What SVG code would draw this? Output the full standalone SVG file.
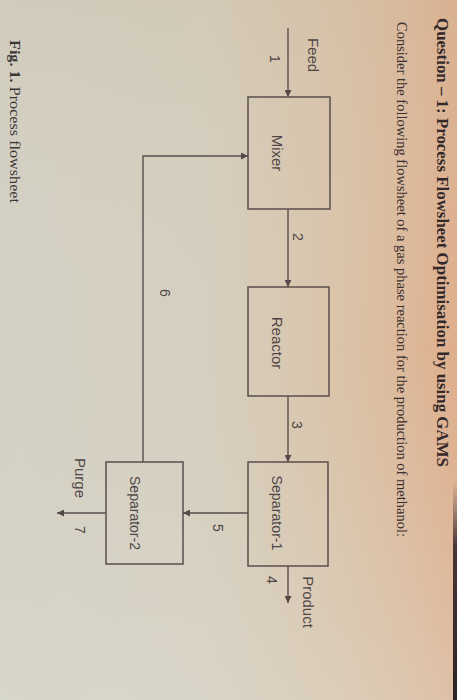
<svg xmlns="http://www.w3.org/2000/svg" width="457" height="700" viewBox="0 0 457 700">
  <defs>
    <linearGradient id="bgx" x1="0" y1="0" x2="457" y2="0" gradientUnits="userSpaceOnUse">
      <stop offset="0" stop-color="#d3d1c5"/>
      <stop offset="0.45" stop-color="#d6cfbf"/>
      <stop offset="0.75" stop-color="#dac3a8"/>
      <stop offset="0.9" stop-color="#ddb899"/>
      <stop offset="1" stop-color="#dfae8b"/>
    </linearGradient>
    <linearGradient id="bgy" x1="0" y1="0" x2="0" y2="700" gradientUnits="userSpaceOnUse">
      <stop offset="0" stop-color="#c9b9a0" stop-opacity="0.25"/>
      <stop offset="0.5" stop-color="#d8d4c8" stop-opacity="0"/>
      <stop offset="1" stop-color="#dfe0d8" stop-opacity="0.35"/>
    </linearGradient>
    <linearGradient id="edge" x1="0" y1="480" x2="0" y2="700" gradientUnits="userSpaceOnUse">
      <stop offset="0" stop-color="#6a4c44" stop-opacity="0"/>
      <stop offset="0.3" stop-color="#4a3434"/>
      <stop offset="1" stop-color="#2e2224"/>
    </linearGradient>
    <marker id="arr" viewBox="0 0 10 10" refX="10" refY="5" markerWidth="7" markerHeight="7" markerUnits="userSpaceOnUse" orient="auto">
      <path d="M0,0 L10,5 L0,10 Z" fill="#55494a"/>
    </marker>
    <style>
      .box { fill: none; stroke: #5a4d4c; stroke-width: 1.5; }
      .ln { fill: none; stroke: #5a4d4c; stroke-width: 1.4; }
      .lbl { font-family: "Liberation Sans", Arial, sans-serif; font-size: 15px; fill: #4f4646; }
      .num { font-family: "Liberation Sans", Arial, sans-serif; font-size: 14px; fill: #4f4646; }
      .title { font-family: "Liberation Serif", "Times New Roman", serif; font-size: 16px; font-weight: bold; fill: #33292a; }
      .body { font-family: "Liberation Serif", "Times New Roman", serif; font-size: 15px; fill: #3a3031; }
      .cap { font-family: "Liberation Serif", "Times New Roman", serif; font-size: 14px; fill: #3c3636; }
    </style>
  </defs>

  <rect x="0" y="0" width="457" height="700" fill="url(#bgx)"/>
  <rect x="0" y="0" width="457" height="700" fill="url(#bgy)"/>
  <rect x="453" y="480" width="4" height="220" fill="url(#edge)"/>

  <g transform="translate(457,0) rotate(90)">
    <g id="texts">
      <text class="title" x="18" y="20" textLength="449" lengthAdjust="spacingAndGlyphs">Question – 1: Process Flowsheet Optimisation by using GAMS</text>
      <text class="body" x="22" y="60" textLength="515" lengthAdjust="spacingAndGlyphs">Consider the following flowsheet of a gas phase reaction for the production of methanol:</text>
      <text class="cap" x="40" y="447" textLength="163" lengthAdjust="spacingAndGlyphs"><tspan font-weight="bold">Fig. 1.</tspan> Process flowsheet</text>
    </g>

    <g id="mixer">
      <rect class="box" x="97" y="127" width="112" height="82"/>
      <text class="lbl" x="153" y="185" text-anchor="middle">Mixer</text>
    </g>
    <g id="reactor">
      <rect class="box" x="287" y="128" width="109" height="81"/>
      <text class="lbl" x="343" y="185" text-anchor="middle">Reactor</text>
    </g>
    <g id="separator1">
      <rect class="box" x="462" y="129" width="104" height="80"/>
      <text class="lbl" x="513" y="185" text-anchor="middle" textLength="75" lengthAdjust="spacingAndGlyphs">Separator-1</text>
    </g>
    <g id="separator2">
      <rect class="box" x="462" y="274" width="102" height="77"/>
      <text class="lbl" x="513" y="327" text-anchor="middle" textLength="74" lengthAdjust="spacingAndGlyphs">Separator-2</text>
    </g>

    <g id="connectors">
      <path class="ln" d="M28,169 L97,169" marker-end="url(#arr)"/>
      <path class="ln" d="M209,169 L287,169" marker-end="url(#arr)"/>
      <path class="ln" d="M396,169 L462,169" marker-end="url(#arr)"/>
      <path class="ln" d="M566,169 L603,169" marker-end="url(#arr)"/>
      <path class="ln" d="M513,209 L513,274" marker-end="url(#arr)"/>
      <path class="ln" d="M513,351 L513,400" marker-end="url(#arr)"/>
      <path class="ln" d="M462,314 L156,314 L156,209" marker-end="url(#arr)"/>
    </g>

    <g id="labels">
      <text class="lbl" x="55" y="149" text-anchor="middle">Feed</text>
      <text class="num" x="59" y="187" text-anchor="middle">1</text>
      <text class="num" x="237" y="164" text-anchor="middle">2</text>
      <text class="num" x="293" y="297" text-anchor="middle">6</text>
      <text class="num" x="425" y="165" text-anchor="middle">3</text>
      <text class="num" x="528" y="244" text-anchor="middle">5</text>
      <text class="lbl" x="478" y="382" text-anchor="middle">Purge</text>
      <text class="num" x="530" y="382" text-anchor="middle">7</text>
      <text class="num" x="580" y="190" text-anchor="middle">4</text>
      <text class="lbl" x="602" y="154" text-anchor="middle">Product</text>
    </g>
  </g>
</svg>
